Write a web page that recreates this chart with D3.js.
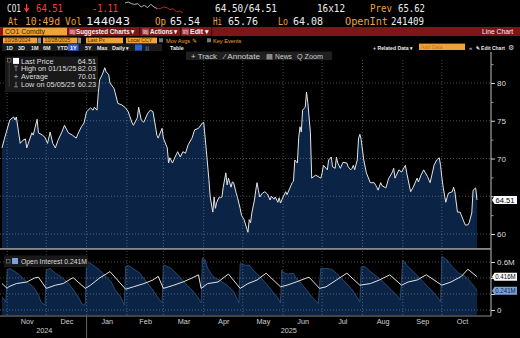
<!DOCTYPE html>
<html><head><meta charset="utf-8">
<script src="https://cdn.jsdelivr.net/npm/d3@7"></script>
<style>html,body{margin:0;padding:0;background:#000;overflow:hidden}</style>
</head><body>
<svg id="c" width="520" height="338"></svg>
<script>
// ---------------- DATA ----------------
const priceDates = [
"2024-10-28","2024-10-30","2024-11-03","2024-11-06","2024-11-07","2024-11-08","2024-11-11","2024-11-13","2024-11-15","2024-11-16",
"2024-11-20","2024-11-21","2024-11-24","2024-11-25","2024-11-28","2024-11-30","2024-12-02","2024-12-04","2024-12-06","2024-12-08",
"2024-12-10","2024-12-13","2024-12-15","2024-12-18","2024-12-21","2024-12-24","2024-12-26","2024-12-28","2024-12-30","2025-01-01",
"2025-01-04","2025-01-06","2025-01-07","2025-01-09","2025-01-10","2025-01-11","2025-01-13","2025-01-15","2025-01-16","2025-01-18",
"2025-01-19","2025-01-22","2025-01-23","2025-01-25","2025-01-28","2025-01-31","2025-02-02","2025-02-05","2025-02-06","2025-02-09",
"2025-02-10","2025-02-12","2025-02-14","2025-02-17","2025-02-19","2025-02-21","2025-02-23","2025-02-24","2025-02-25","2025-02-28",
"2025-03-01","2025-03-04","2025-03-05","2025-03-06","2025-03-08","2025-03-10","2025-03-12","2025-03-14","2025-03-16","2025-03-18",
"2025-03-20","2025-03-23","2025-03-25","2025-03-28","2025-03-31","2025-04-01","2025-04-03","2025-04-05","2025-04-06","2025-04-08",
"2025-04-09","2025-04-10","2025-04-11","2025-04-13","2025-04-14","2025-04-15","2025-04-16","2025-04-18","2025-04-19","2025-04-20",
"2025-04-22","2025-04-23","2025-04-24","2025-04-26","2025-04-27","2025-04-28","2025-04-29","2025-04-30","2025-05-02","2025-05-05",
"2025-05-06","2025-05-07","2025-05-08","2025-05-10","2025-05-11","2025-05-12","2025-05-13","2025-05-14","2025-05-16","2025-05-18",
"2025-05-20","2025-05-21","2025-05-22","2025-05-23","2025-05-25","2025-05-26","2025-05-28","2025-05-29","2025-05-30","2025-05-31",
"2025-06-01","2025-06-03","2025-06-04","2025-06-07","2025-06-08","2025-06-09","2025-06-10","2025-06-12","2025-06-13","2025-06-14",
"2025-06-15","2025-06-16","2025-06-18","2025-06-19","2025-06-20","2025-06-22","2025-06-23","2025-06-26","2025-06-28","2025-06-30",
"2025-07-01","2025-07-02","2025-07-05","2025-07-06","2025-07-08","2025-07-09","2025-07-11","2025-07-12","2025-07-13","2025-07-15",
"2025-07-17","2025-07-20","2025-07-21","2025-07-23","2025-07-24","2025-07-25","2025-07-26","2025-07-28","2025-07-29","2025-07-30",
"2025-07-31","2025-08-02","2025-08-04","2025-08-07","2025-08-10","2025-08-12","2025-08-13","2025-08-15","2025-08-16","2025-08-19",
"2025-08-21","2025-08-24","2025-08-25","2025-08-26","2025-08-29","2025-08-31","2025-09-03","2025-09-04","2025-09-07","2025-09-09",
"2025-09-12","2025-09-13","2025-09-15","2025-09-17","2025-09-20","2025-09-22","2025-09-25","2025-09-27","2025-09-29","2025-09-30",
"2025-10-01","2025-10-02","2025-10-04","2025-10-05","2025-10-06","2025-10-09","2025-10-10","2025-10-11","2025-10-13","2025-10-15",
"2025-10-18","2025-10-19","2025-10-21","2025-10-22","2025-10-24","2025-10-25","2025-10-27","2025-10-28"];
const priceValues = [
71.4,72.7,75.1,75.5,75.1,75.5,72.0,72.4,72.6,71.4,
73.4,73.1,75.2,73.4,73.1,72.8,72.0,73.5,72.0,71.4,
72.4,73.5,74.4,73.4,73.1,72.7,73.5,74.2,74.7,76.2,
76.7,76.4,76.8,76.4,78.7,80.4,81.1,82.03,81.5,81.1,
80.0,79.3,78.7,77.3,77.1,76.7,76.2,74.7,74.4,75.4,
76.8,75.1,74.8,76.0,76.4,76.2,74.2,73.1,72.7,74.0,
72.7,71.4,69.4,70.1,69.4,70.2,70.9,70.2,70.9,70.7,
71.8,72.7,73.8,74.0,74.7,74.8,71.1,67.2,64.9,62.9,
64.9,63.4,64.2,64.9,64.8,64.9,66.2,68.1,66.5,67.4,
66.2,66.9,66.8,65.4,64.8,64.1,63.4,62.5,61.9,60.23,
61.9,61.5,62.8,64.5,65.8,66.8,65.8,64.9,65.4,65.6,
65.3,64.9,64.5,65.0,64.6,64.9,64.2,64.8,64.1,64.5,
64.9,65.6,65.2,66.4,66.8,67.0,69.8,69.4,72.8,74.2,
73.5,76.4,76.8,78.8,77.4,73.4,67.4,67.8,67.6,67.4,
68.1,69.1,68.5,69.8,70.2,68.9,68.7,70.2,69.4,68.7,
69.5,69.4,68.9,68.5,68.7,69.1,68.5,69.8,72.7,73.2,
72.5,69.8,68.1,66.8,66.8,66.2,65.8,66.8,66.4,66.1,
67.3,68.2,68.7,67.4,68.5,68.2,69.1,68.1,65.6,66.2,
67.4,66.9,67.8,68.5,67.6,66.8,69.1,69.8,70.1,69.1,
67.5,66.2,64.2,64.8,65.4,65.6,66.2,65.6,62.9,62.9,
61.6,61.2,61.2,61.5,62.8,65.8,66.1,64.51];

// Open interest (front contract, millions) - filled area
const oiDates = [
"2024-10-28","2024-10-30","2024-10-31","2024-11-01","2024-11-03","2024-11-07","2024-11-11","2024-11-16","2024-11-21","2024-11-25",
"2024-11-27","2024-11-30","2024-12-01","2024-12-04","2024-12-08","2024-12-12","2024-12-17","2024-12-22","2024-12-26","2024-12-29",
"2024-12-31","2025-01-01","2025-01-02","2025-01-06","2025-01-11","2025-01-16","2025-01-20","2025-01-23","2025-01-27","2025-01-30",
"2025-01-31","2025-02-02","2025-02-11","2025-02-16","2025-02-21","2025-02-25","2025-02-28","2025-03-01","2025-03-02","2025-03-07",
"2025-03-12","2025-03-18","2025-03-23","2025-03-27","2025-03-30","2025-03-31","2025-04-02","2025-04-04","2025-04-08","2025-04-13",
"2025-04-19","2025-04-24","2025-04-27","2025-04-28","2025-04-29","2025-05-03","2025-05-06","2025-05-09","2025-05-14","2025-05-19",
"2025-05-24","2025-05-28","2025-05-30","2025-05-31","2025-06-02","2025-06-05","2025-06-09","2025-06-11","2025-06-15","2025-06-19",
"2025-06-23","2025-06-28","2025-06-30","2025-07-04","2025-07-08","2025-07-12","2025-07-17","2025-07-22","2025-07-26","2025-07-30",
"2025-07-31","2025-08-03","2025-08-07","2025-08-12","2025-08-17","2025-08-22","2025-08-27","2025-08-30","2025-09-01","2025-09-04",
"2025-09-09","2025-09-14","2025-09-19","2025-09-24","2025-09-28","2025-09-30","2025-10-01","2025-10-05","2025-10-09","2025-10-14",
"2025-10-19","2025-10-23","2025-10-27","2025-10-28"];
const oiValues = [
0.166,0.125,0.10,0.50,0.52,0.48,0.43,0.35,0.29,0.19,
0.10,0.06,0.50,0.52,0.46,0.42,0.35,0.25,0.15,0.06,
0.07,0.625,0.60,0.56,0.50,0.42,0.35,0.25,0.17,0.06,
0.54,0.56,0.46,0.35,0.25,0.15,0.09,0.56,0.56,0.52,
0.44,0.33,0.25,0.17,0.09,0.65,0.63,0.52,0.42,0.375,
0.31,0.23,0.125,0.09,0.58,0.56,0.56,0.50,0.42,0.33,
0.23,0.15,0.09,0.50,0.46,0.45,0.46,0.40,0.33,0.25,
0.17,0.08,0.52,0.52,0.51,0.46,0.375,0.29,0.21,0.10,
0.54,0.54,0.48,0.42,0.35,0.27,0.19,0.125,0.625,0.56,
0.48,0.40,0.31,0.23,0.15,0.10,0.67,0.625,0.54,0.46,
0.42,0.35,0.27,0.241];

// Second open-interest line (white)
const oi2Dates = [
"2024-10-28","2024-11-01","2024-11-02","2024-11-08","2024-11-16","2024-11-22","2024-11-25","2024-12-01","2024-12-08","2024-12-14",
"2024-12-21","2024-12-22","2024-12-31","2025-01-04","2025-01-11","2025-01-19","2025-01-31","2025-02-06","2025-02-14","2025-02-21",
"2025-02-25","2025-03-01","2025-03-09","2025-03-16","2025-03-23","2025-03-28","2025-03-30","2025-04-04","2025-04-12","2025-04-20",
"2025-04-29","2025-05-05","2025-05-12","2025-05-14","2025-05-19","2025-05-30","2025-06-04","2025-06-11","2025-06-19","2025-06-21",
"2025-06-29","2025-07-04","2025-07-12","2025-07-20","2025-07-30","2025-08-07","2025-08-14","2025-08-22","2025-08-31","2025-09-05",
"2025-09-12","2025-09-19","2025-10-01","2025-10-08","2025-10-16","2025-10-21","2025-10-28"];
const oi2Values = [
0.33,0.27,0.29,0.33,0.35,0.40,0.41,0.27,0.31,0.33,
0.40,0.40,0.27,0.31,0.40,0.48,0.26,0.29,0.33,0.375,
0.42,0.27,0.31,0.35,0.40,0.44,0.27,0.33,0.35,0.45,
0.27,0.33,0.375,0.40,0.46,0.29,0.31,0.35,0.40,0.41,
0.27,0.29,0.375,0.46,0.31,0.33,0.375,0.44,0.31,0.35,
0.375,0.44,0.31,0.35,0.42,0.51,0.416];

const sparkValues = [65.65,65.76,65.57,65.49,65.57,65.19,65.38,65.11,65.49,65.19,65.00,65.00,65.19,65.11,64.88,65.00,64.61,64.73,64.50];
const priceMajorTicks = [60,65,70,75,80];
const priceHiddenLabels = [65];            // covered by the last-price box
const priceMinorTicks = [62.5,67.5,72.5,77.5,82.5];
const oiTicks = [0,0.2,0.4,0.6];
const oiTickLabels = ["0","","","0.6M"];   // 0.2M / 0.4M covered by value boxes
const monthStarts = ["2024-11-01","2024-12-01","2025-01-01","2025-02-01","2025-03-01","2025-04-01","2025-05-01","2025-06-01","2025-07-01","2025-08-01","2025-09-01","2025-10-01"];
const yearLabels = ["2024","2025"];
const legendRows = [
  {label:"Last Price", value:"64.51", icon:"sq"},
  {label:"High on 01/15/25", value:"82.03", icon:"T"},
  {label:"Average", value:"70.01", icon:"+"},
  {label:"Low on 05/05/25", value:"60.23", icon:"L"}];
const lastPrice = 64.51, lastOI = 0.241, lastOI2 = 0.416;

// ---------------- SETUP ----------------
const svg = d3.select("#c");
const SANS = "Liberation Sans, Arial, sans-serif";
const MONO = "DejaVu Sans Mono, monospace";
svg.append("rect").attr("width",520).attr("height",338).attr("fill","#000");
const parse = d3.timeParse("%Y-%m-%d");
const price = priceDates.map((d,i)=>({date:parse(d), v:priceValues[i]}));
const oi = oiDates.map((d,i)=>({date:parse(d), v:oiValues[i]}));
const oi2 = oi2Dates.map((d,i)=>({date:parse(d), v:oi2Values[i]}));
const months = monthStarts.map(parse);

function T(g,s,x,y,o={}){
  const t=g.append("text").attr("x",x).attr("y",y).text(s)
   .attr("font-family",o.ff||SANS).attr("font-size",o.fs||7).attr("fill",o.c||"#ddd");
  if(o.w) t.attr("textLength",o.w).attr("lengthAdjust","spacingAndGlyphs");
  if(o.a) t.attr("text-anchor",o.a);
  if(o.fw) t.attr("font-weight",o.fw);
  return t;
}
const ORANGE="#f2a23a", RED="#ff3b3b", WHITE="#eeeeee";

// ---------------- HEADER ----------------
const hd = svg.append("g");
[["CO1",7,14,WHITE],["64.51",36,27,RED],["-1.11",92,26,RED],
 ["64.50/64.51",215,62,WHITE],["16x12",317,28,WHITE],["Prev",370,22,ORANGE],["65.62",398,27,WHITE]]
 .forEach(a=>T(hd,a[0],a[1],12,{ff:MONO,fs:11,w:a[2],c:a[3]}));
// down arrow (drawn)
hd.append("path").attr("d","M26.6,4 L26.6,10 M24.6,8 L26.6,11.5 L28.6,8").attr("fill","none").attr("stroke",RED).attr("stroke-width",1.3);
[["At",8,10,ORANGE],["10:49d",25,35,ORANGE],["Vol",65,17,ORANGE],["144043",86,44,WHITE],
 ["Op",155,11,ORANGE],["65.54",170,30,WHITE],["Hi",213,9,ORANGE],["65.76",228,30,WHITE],
 ["Lo",278,10,ORANGE],["64.08",293,30,WHITE],["OpenInt",345,43,ORANGE],["241409",391,33,WHITE]]
 .forEach(a=>T(hd,a[0],a[1],24.5,{ff:MONO,fs:10,w:a[2],c:a[3]}));
// sparkline
const sx = d3.scaleLinear().domain([0,sparkValues.length-1]).range([125,183]);
const sy = d3.scaleLinear().domain([64.5,65.76]).range([13,2]);
const sp = sparkValues.map((v,i)=>({v,i}));
hd.append("path").attr("d",d3.line().x(d=>sx(d.i)).y(d=>sy(d.v))(sp.slice(0,11))).attr("fill","none").attr("stroke","#ddd").attr("stroke-width",0.8);
hd.append("path").attr("d",d3.line().x(d=>sx(d.i)).y(d=>sy(d.v))(sp.slice(10))).attr("fill","none").attr("stroke","#e23030").attr("stroke-width",0.8);

// red bar
hd.append("rect").attr("x",0).attr("y",27).attr("width",520).attr("height",9).attr("fill","#7e1519");
hd.append("rect").attr("x",3).attr("y",27.7).attr("width",64).attr("height",7.6).attr("fill","#f0a238");
T(hd,"CO1 Comdty",5,34,{fs:7,c:"#3a1c00",w:40});
[[70,"96)",76,"Suggested Charts \u25BE",59],[143,"96)",150,"Actions \u25BE",28],[183,"97)",190,"Edit \u25BE",19]].forEach(a=>{
  hd.append("rect").attr("x",a[0]-1).attr("y",28.5).attr("width",7).attr("height",6).attr("fill","#a9474a");
  T(hd,a[1],a[0],33.5,{fs:5,c:"#eee",w:5});
  T(hd,a[3],a[2],34,{fs:7,c:"#f3f3f3",w:a[4],fw:"bold"});
});
[139,180,211].forEach(xx=>hd.append("rect").attr("x",xx).attr("y",27).attr("width",1.2).attr("height",9).attr("fill","#4a0b0e"));
T(hd,"Line Chart",482,34,{fs:7,c:"#f3f3f3",w:31});

// row 4 inputs
[[3,34,"10/28/2024"],[43,34,"10/28/2025"],[86,37,"Last Px"],[126,31,"Local CCY"]].forEach((a,i)=>{
  hd.append("rect").attr("x",a[0]).attr("y",37.6).attr("width",a[1]).attr("height",5.8).attr("fill","#f0a238");
  T(hd,a[2],a[0]+1.5,42.3,{fs:5.2,c:"#4a2600"});
  if(i<2) hd.append("rect").attr("x",a[0]+a[1]+0.5).attr("y",37.6).attr("width",3.5).attr("height",5.8).attr("fill","#888");
});
hd.append("rect").attr("x",159).attr("y",38.3).attr("width",4).attr("height",4).attr("fill","#777");
T(hd,"Mov Avgs \u270E",166,42.5,{fs:5.6,c:ORANGE});
hd.append("rect").attr("x",207).attr("y",38.3).attr("width",4).attr("height",4).attr("fill","#777");
T(hd,"Key Events",213,42.5,{fs:5.6,c:ORANGE});

// row 5 buttons
hd.append("rect").attr("x",2).attr("y",44).attr("width",160).attr("height",7).attr("fill","#1b1b1b");
[["1D",6],["3D",18],["1M",31],["6M",43],["YTD",57],["5Y",85],["Max",97],["Daily \u25BE",112]].forEach(a=>T(hd,a[0],a[1],49.6,{fs:5.4,c:"#e8e8e8",fw:"bold"}));
hd.append("rect").attr("x",68).attr("y",44.3).attr("width",10.5).attr("height",6.4).attr("fill","#2f5fd0");
T(hd,"1Y",70,49.6,{fs:5.4,c:"#fff",fw:"bold"});
hd.append("rect").attr("x",135).attr("y",44.5).attr("width",7).attr("height",6).attr("fill","#2f5fd0");
T(hd,"\u2503\u2503",145,49.6,{fs:4,c:"#6a8fe0"});
T(hd,"Table",170,49.6,{fs:5.4,c:"#e8e8e8",fw:"bold"});
// row 5 right
T(hd,"+ Related Data \u25BE",373,49.5,{fs:5.4,c:"#e8e8e8",fw:"bold",w:40});
hd.append("rect").attr("x",419).attr("y",43.6).attr("width",46).attr("height",6.4).attr("fill","#f0a238");
T(hd,"Add Data",421,49,{fs:5.2,c:"#c47414"});
T(hd,"\u00AB",469,49.5,{fs:6,c:"#ddd"});
T(hd,"\u270E Edit Chart",476,49.5,{fs:5.4,c:"#e8e8e8",fw:"bold",w:29});
T(hd,"\u2699",508,49.8,{fs:7,c:"#ddd"});
// row 6 toolbar
hd.append("rect").attr("x",186).attr("y",51.5).attr("width",146).attr("height",8.5).attr("fill","#1f1f1f");
T(hd,"+ Track",191,58.5,{fs:6.6,c:"#cfcfcf",w:26});
T(hd,"\u2044 Annotate",224,58.5,{fs:6.6,c:"#cfcfcf",w:36});
T(hd,"\u25A4 News",266,58.5,{fs:6.6,c:"#cfcfcf",w:26});
T(hd,"Q  Zoom",297,58.5,{fs:6.6,c:"#cfcfcf",w:26});

// ---------------- SCALES ----------------
const x = d3.scaleTime().domain([parse("2024-10-28"),parse("2025-11-07")]).range([2,490]);
const yP = d3.scaleLinear().domain([60,80]).range([234,83]);
const yO = d3.scaleLinear().domain([0,0.6]).range([310,262]);
const AX = 491;
const P_TOP=60, P_BOT=248, O_TOP=251, O_BOT=315;

const defs = svg.append("defs");
defs.append("clipPath").attr("id","cp").append("rect").attr("x",0).attr("y",P_TOP).attr("width",AX).attr("height",P_BOT-P_TOP);
defs.append("clipPath").attr("id","co").append("rect").attr("x",0).attr("y",O_TOP).attr("width",AX).attr("height",O_BOT-O_TOP);

const NAVY="#0b2446";
// ---- price pane
const pg = svg.append("g").attr("clip-path","url(#cp)");
pg.append("path").datum(price).attr("fill",NAVY)
  .attr("d",d3.area().x(d=>x(d.date)).y0(P_BOT).y1(d=>yP(d.v)));
const gridC="rgba(255,255,255,0.28)";
pg.selectAll(".hg").data(priceMajorTicks).join("line").attr("x1",0).attr("x2",AX)
  .attr("y1",d=>yP(d)).attr("y2",d=>yP(d)).attr("stroke",gridC).attr("stroke-dasharray","1,2");
pg.selectAll(".vg").data(months).join("line").attr("x1",d=>x(d)).attr("x2",d=>x(d))
  .attr("y1",P_TOP).attr("y2",P_BOT).attr("stroke",gridC).attr("stroke-dasharray","1,2");
pg.append("path").datum(price).attr("fill","none").attr("stroke","#e4e4e4").attr("stroke-width",1)
  .attr("d",d3.line().x(d=>x(d.date)).y(d=>yP(d.v)));

// price axis
svg.append("line").attr("x1",AX).attr("x2",AX).attr("y1",52).attr("y2",O_BOT+1).attr("stroke","#8a8a8a").attr("stroke-width",1.4);
const ga = svg.append("g").attr("transform",`translate(${AX},0)`)
  .call(d3.axisRight(yP).tickValues(priceMajorTicks).tickSize(4).tickPadding(2)
        .tickFormat(d=>priceHiddenLabels.includes(d)?"":d3.format("d")(d)));
ga.select(".domain").remove();
ga.attr("font-family",SANS).attr("font-size",8);
ga.selectAll("line").attr("stroke","#d0d0d0");
ga.selectAll("text").attr("fill","#dcdcdc");
const gm = svg.append("g").attr("transform",`translate(${AX},0)`)
  .call(d3.axisRight(yP).tickValues(priceMinorTicks).tickSize(2.5).tickFormat(""));
gm.select(".domain").remove();
gm.selectAll("line").attr("stroke","#999");

// last price label
const lp = svg.append("g").attr("transform",`translate(${AX+1},${yP(lastPrice)})`);
lp.append("path").attr("d","M0,0 L2.5,-4 L25,-4 L25,4 L2.5,4 Z").attr("fill","#fff");
T(lp,lastPrice.toFixed(2),3.5,2.8,{fs:7.6,c:"#000",w:19});

// legend
const lg = svg.append("g");
lg.append("rect").attr("x",5).attr("y",56.5).attr("width",93).attr("height",35.5).attr("fill","#1b1b1b").attr("opacity",0.92);
lg.append("rect").attr("x",7.5).attr("y",58.5).attr("width",3.5).attr("height",3.5).attr("fill","none").attr("stroke","#888").attr("stroke-width",0.6);
lg.append("line").attr("x1",9.2).attr("x2",9.2).attr("y1",62.5).attr("y2",87).attr("stroke","#555").attr("stroke-width",0.6);
legendRows.forEach((r,i)=>{
  const by = 63.5 + i*7.8, cy = by-2.6, ix = 16;
  if(r.icon==="sq") lg.append("rect").attr("x",13).attr("y",cy-3).attr("width",6).attr("height",6).attr("fill","#fff");
  else if(r.icon==="T"){ lg.append("line").attr("x1",ix-2).attr("x2",ix+2).attr("y1",cy-2.5).attr("y2",cy-2.5).attr("stroke","#aaa").attr("stroke-width",0.7);
    lg.append("line").attr("x1",ix).attr("x2",ix).attr("y1",cy-2.5).attr("y2",cy+2.5).attr("stroke","#aaa").attr("stroke-width",0.7);}
  else if(r.icon==="+"){ lg.append("line").attr("x1",ix-2).attr("x2",ix+2).attr("y1",cy).attr("y2",cy).attr("stroke","#aaa").attr("stroke-width",0.7);
    lg.append("line").attr("x1",ix).attr("x2",ix).attr("y1",cy-2).attr("y2",cy+2).attr("stroke","#aaa").attr("stroke-width",0.7);}
  else { lg.append("line").attr("x1",ix-2).attr("x2",ix+2).attr("y1",cy+2.5).attr("y2",cy+2.5).attr("stroke","#aaa").attr("stroke-width",0.7);
    lg.append("line").attr("x1",ix).attr("x2",ix).attr("y1",cy-2.5).attr("y2",cy+2.5).attr("stroke","#aaa").attr("stroke-width",0.7);}
  T(lg,r.label,21,by,{fs:7.3,c:"#dedede"});
  T(lg,r.value,96,by,{fs:7.3,c:"#dedede",a:"end"});
});

// pane separator
svg.append("rect").attr("x",0).attr("y",P_BOT).attr("width",AX).attr("height",1.8).attr("fill","#8a8a8a");

// ---- OI pane
const og = svg.append("g").attr("clip-path","url(#co)");
og.append("path").datum(oi).attr("fill",NAVY)
  .attr("d",d3.area().x(d=>x(d.date)).y0(O_BOT).y1(d=>yO(d.v)));
og.selectAll(".hg").data(oiTicks).join("line").attr("x1",0).attr("x2",AX)
  .attr("y1",d=>yO(d)).attr("y2",d=>yO(d)).attr("stroke",gridC).attr("stroke-dasharray","1,2");
og.selectAll(".vg").data(months).join("line").attr("x1",d=>x(d)).attr("x2",d=>x(d))
  .attr("y1",O_TOP).attr("y2",O_BOT).attr("stroke",gridC).attr("stroke-dasharray","1,2");
og.append("path").datum(oi).attr("fill","none").attr("stroke","#34557f").attr("stroke-width",0.8)
  .attr("d",d3.line().x(d=>x(d.date)).y(d=>yO(d.v)));
og.append("path").datum(oi2).attr("fill","none").attr("stroke","#e2e2e2").attr("stroke-width",1)
  .attr("d",d3.line().x(d=>x(d.date)).y(d=>yO(d.v)));

const go = svg.append("g").attr("transform",`translate(${AX},0)`)
  .call(d3.axisRight(yO).tickValues(oiTicks).tickSize(4).tickPadding(2).tickFormat((d,i)=>oiTickLabels[i]));
go.select(".domain").remove();
go.attr("font-family",SANS).attr("font-size",8);
go.selectAll("line").attr("stroke","#d0d0d0");
go.selectAll("text").attr("fill","#dcdcdc");

// OI value labels
const l2 = svg.append("g").attr("transform",`translate(${AX+1},${yO(lastOI2)})`);
l2.append("path").attr("d","M0,0 L2.5,-4 L25,-4 L25,4 L2.5,4 Z").attr("fill","#fff");
T(l2,lastOI2.toFixed(3)+"M",3.2,2.7,{fs:7.3,c:"#000",w:20.5});
const l1 = svg.append("g").attr("transform",`translate(${AX+1},${yO(lastOI)})`);
l1.append("path").attr("d","M0,0 L2.5,-4 L25,-4 L25,4 L2.5,4 Z").attr("fill","#7aa3dc");
T(l1,lastOI.toFixed(3)+"M",3.2,2.7,{fs:7.3,c:"#0a2040",w:20.5});

// OI legend
const ol = svg.append("g");
ol.append("rect").attr("x",4).attr("y",255.5).attr("width",84).attr("height",11.5).attr("fill","#1b1b1b").attr("opacity",0.92);
ol.append("rect").attr("x",6.5).attr("y",259.5).attr("width",3.5).attr("height",3.5).attr("fill","none").attr("stroke","#888").attr("stroke-width",0.6);
ol.append("rect").attr("x",12).attr("y",258).attr("width",6).attr("height",6).attr("fill","#7aa3dc");
T(ol,"Open Interest "+lastOI.toFixed(3)+"M",21,264,{fs:7.3,c:"#dedede",w:66});

// ---- X axis
svg.append("line").attr("x1",0).attr("x2",AX).attr("y1",O_BOT+1).attr("y2",O_BOT+1).attr("stroke","#8a8a8a").attr("stroke-width",1);
const mids = months.map(m=>new Date((+m + +d3.timeMonth.offset(m,1))/2));
const gx = svg.append("g").attr("transform",`translate(0,${O_BOT+1})`)
  .call(d3.axisBottom(x).tickValues(mids).tickSize(0).tickPadding(3).tickFormat(d3.timeFormat("%b")));
gx.select(".domain").remove();
gx.attr("font-family",SANS).attr("font-size",7.3);
gx.selectAll("text").attr("fill","#d0d0d0");
const jan = parse("2025-01-01");
svg.append("line").attr("x1",x(jan)).attr("x2",x(jan)).attr("y1",O_BOT+1).attr("y2",338).attr("stroke","#666").attr("stroke-width",1);
const yearPos = [(x.range()[0]+x(jan))/2, (x(jan)+AX)/2];
yearLabels.forEach((yl,i)=>T(svg,yl,yearPos[i],333,{fs:7.3,c:"#d0d0d0",a:"middle"}));
</script>
</body></html>
